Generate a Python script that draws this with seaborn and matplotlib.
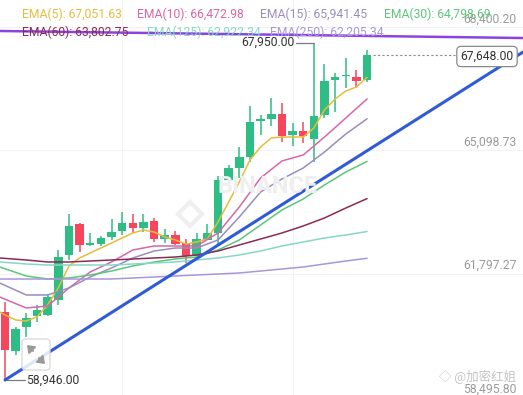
import matplotlib
matplotlib.use("Agg")
import matplotlib.pyplot as plt
import seaborn as sns
import pandas as pd
from matplotlib.patches import FancyBboxPatch, FancyArrowPatch

# ---------------- data ----------------
opens  = [60767, 59723, 60365, 60660, 60687, 61088, 62293, 63123, 62561, 62587,
          62775, 62936, 63150, 63016, 63204, 62721, 62829, 62614, 62266, 62695,
          62882, 64301, 64622, 64917, 65881, 65934, 66068, 65506, 65613, 65399,
          66042, 66979, 67086, 67059, 66979]
highs  = [61035, 60365, 60740, 60954, 61249, 62427, 63391, 63150, 62882, 62802,
          63257, 63444, 63391, 63391, 63284, 62989, 62936, 62721, 62882, 63123,
          64408, 64703, 65185, 66282, 66042, 66497, 66363, 65827, 65854, 67950,
          67407, 67166, 67568, 67246, 67782]
lows   = [58946, 59616, 60098, 60499, 60660, 60954, 62159, 62373, 62534, 62534,
          62695, 62829, 62882, 62909, 62641, 62614, 62561, 62079, 62266, 62695,
          62561, 64248, 64355, 64783, 65506, 65747, 65319, 65212, 65292, 64783,
          65961, 66122, 66764, 66791, 66925]
closes = [59750, 60312, 60606, 60820, 61168, 62239, 63070, 62561, 62614, 62748,
          62909, 63150, 63016, 63177, 62721, 62829, 62587, 62266, 62721, 62882,
          64301, 64622, 64917, 65854, 65934, 66068, 65479, 65613, 65479, 66015,
          66952, 67059, 67113, 66952, 67648]

ema5_x = [-0.5] + list(range(35))
ema5 = [60767, 60687, 60553, 60526, 60634, 60954, 61409, 61998, 62213, 62347,
        62480, 62614, 62748, 62882, 62962, 62909, 62775, 62695, 62587, 62641,
        62721, 63177, 63712, 64248, 64837, 65185, 65426, 65452, 65452, 65452,
        65693, 66175, 66470, 66684, 66791, 67052]

ema_x = [-0.5, 2, 4, 6, 8, 10, 12, 14, 16, 18, 20, 22, 24, 26, 28, 30, 32, 34]
ema10 = [61168, 60874, 60927, 61409, 61838, 62106, 62427, 62534, 62534, 62534,
         62882, 63578, 64355, 64810, 64971, 65452, 65961, 66473]
ema15 = [61543, 61222, 61222, 61409, 61704, 61945, 62213, 62400, 62480, 62480,
         62695, 63310, 63980, 64328, 64622, 65051, 65533, 65941]
ema30 = [61972, 61731, 61650, 61677, 61758, 61864, 61998, 62106, 62186, 62239,
         62427, 62695, 63096, 63498, 63792, 64167, 64515, 64799]
ema60 = [62213, 62159, 62106, 62106, 62132, 62159, 62186, 62213, 62239, 62293,
         62400, 62561, 62721, 62882, 63070, 63284, 63551, 63803]
ema125 = [62106, 62052, 62025, 62025, 62025, 62025, 62052, 62079, 62106, 62159,
          62213, 62293, 62400, 62534, 62641, 62748, 62829, 62922]
ema250 = [61650, 61650, 61650, 61650, 61650, 61650, 61677, 61704, 61731, 61758,
          61784, 61811, 61864, 61918, 61972, 62052, 62132, 62205]

legend_labels = ["EMA(5): 67,051.63", "EMA(10): 66,472.98", "EMA(15): 65,941.45",
                 "EMA(30): 64,798.69", "EMA(60): 63,802.75", "EMA(125): 62,922.34",
                 "EMA(250): 62,205.34"]
ema_colors = ["#E6BC3C", "#D667A8", "#9A8DBD", "#5CC67A", "#8C2A55", "#86D8C5", "#A896DA"]

y_ticks = [68400.20, 65098.73, 61797.27, 58495.80]
y_tick_labels = ["68,400.20", "65,098.73", "61,797.27", "58,495.80"]
v_grid = [11, 27]

blue_x = [0, 48.64]
blue_y = [58946, 67728]
purple_x = [-0.47, 48.64]
purple_y = [68291, 68103]

last_price = 67648.00
hi_price, hi_idx = 67950.00, 29
lo_price, lo_idx = 58946.00, 0

# ---------------- figure ----------------
W, H = 523, 395
sns.set_theme(style="white")
plt.rcParams['font.family'] = ['Roboto', 'DejaVu Sans']
fig = plt.figure(figsize=(W / 100, H / 100), dpi=100)
ax = fig.add_axes([0, 0, 1, 1])
ax.set_xlim(-0.47, 48.64)
ax.set_ylim(58544, 69121)
ax.axis('off')

def fx(px):
    return px / W
def fy(py):
    return 1 - py / H

# grid
for v in y_ticks:
    ax.axhline(v, color="#f2f2f2", lw=0.8, zorder=0)
for v in v_grid:
    ax.axvline(v, color="#f2f2f2", lw=0.8, zorder=0)

# watermark
fig.text(fx(268), fy(186), "BINANCE", color="#efefef", fontsize=17, fontweight="bold",
         ha="center", va="center", zorder=0)
ax.plot([17.4], [63390], marker="D", markersize=12, markerfacecolor="none",
        markeredgecolor="#efefef", markeredgewidth=3, zorder=0)

# candles
green, red = "#2EBD85", "#F6465D"
for i, (o, h, l, c) in enumerate(zip(opens, highs, lows, closes)):
    col = green if c >= o else red
    ax.vlines(i, l, h, color=col, lw=1.1, zorder=2)
    bottom = min(o, c)
    height = max(abs(c - o), 35)
    ax.bar(i, height, bottom=bottom, width=0.8, color=col, edgecolor=col, lw=0, zorder=2)

# EMA lines
series = [(ema5_x, ema5), (ema_x, ema10), (ema_x, ema15), (ema_x, ema30),
          (ema_x, ema60), (ema_x, ema125), (ema_x, ema250)]
for (xs, ys), col in zip(series, ema_colors):
    sns.lineplot(x=xs, y=ys, ax=ax, color=col, linewidth=1.1, legend=False, zorder=3)

# trend lines
ax.plot(blue_x, blue_y, color="#2F5BD6", lw=2.2, solid_capstyle="round", zorder=4)
ax.plot(purple_x, purple_y, color="#8A45E0", lw=1.8, zorder=4)

# legend texts
pos = [(22, 14), (137, 14), (260, 14), (384, 14), (22, 32), (147, 32), (270, 32)]
for (px, py), lab, col in zip(pos, legend_labels, ema_colors):
    fig.text(fx(px), fy(py), lab, color=col, fontsize=8.7, ha="left", va="center", zorder=5)

# y labels (right, above grid lines)
for v, lab in zip(y_ticks, y_tick_labels):
    ax.annotate(lab, xy=(1, v), xycoords=("axes fraction", "data"),
                xytext=(-4.5, 5.6), textcoords="offset points",
                ha="right", va="center", fontsize=8.7, color="#9a9a9a", zorder=5)

# last price box and dotted line
ax.plot([34.6, 42.3], [last_price, last_price], color="#8a8a8a", lw=0.8,
        linestyle=(0, (2, 2)), zorder=3)
fig.text(fx(487), fy(56.5), f"{last_price:,.2f}", fontsize=8.7, color="#333333",
         ha="center", va="center", zorder=7,
         bbox=dict(boxstyle="round,pad=0.3,rounding_size=0.35", fc="white", ec="#8a8a8a", lw=0.9))

# high marker
ax.plot([hi_idx - 1.7, hi_idx], [hi_price + 30, hi_price + 30], color="#7a7a7a", lw=0.9, zorder=3)
ax.text(hi_idx - 1.85, hi_price + 30, f"{hi_price:,.2f}", fontsize=8.7, color="#333333",
        ha="right", va="center", zorder=5)

# low marker
ax.plot([lo_idx, lo_idx + 1.9], [lo_price, lo_price], color="#7a7a7a", lw=0.9, zorder=3)
ax.text(lo_idx + 2.0, lo_price, f"{lo_price:,.2f}", fontsize=8.7, color="#333333",
        ha="left", va="center", zorder=5)

# expand icon
icon = FancyBboxPatch((fx(22), fy(370)), fx(28), 31 / H, transform=fig.transFigure,
                      boxstyle="round,pad=0,rounding_size=0.008", fc="white", ec="#d5d5d5",
                      lw=1.0, alpha=0.85, zorder=6)
fig.patches.append(icon)
for a, b in [((fx(33), fy(351)), (fx(27), fy(345))), ((fx(39), fy(358)), (fx(45), fy(364)))]:
    arr = FancyArrowPatch(a, b, transform=fig.transFigure,
                          arrowstyle="-|>,head_length=4,head_width=3", color="#9a9a9a",
                          lw=1.4, zorder=7, shrinkA=0, shrinkB=0)
    fig.patches.append(arr)

# bottom-right watermark
fig.text(fx(516), fy(377), "\u25c7 @\u52a0\u5bc6\u7ea2\u59d0", fontsize=9, color="#c4c4c4",
         ha="right", va="center", family=['Noto Sans CJK SC', 'DejaVu Sans'], zorder=6)

fig.savefig("out.png", dpi=100)
